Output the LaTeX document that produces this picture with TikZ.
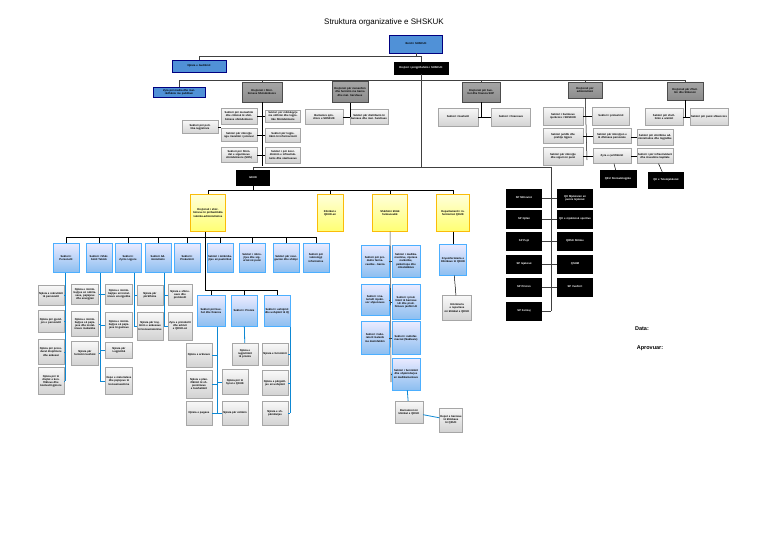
\documentclass[tikz,border=0pt]{standalone}
\usepackage{fontspec}
\setmainfont{Liberation Sans}
\usetikzlibrary{shadows}
\begin{document}
\begin{tikzpicture}[x=1pt,y=-1pt,
 base/.style={draw,rectangle,inner sep=0.5pt,align=center,font=\fontsize{2.7}{3.1}\selectfont\bfseries},
 topbl/.style={base,draw=blue!50!black,fill={rgb,255:red,80;green,145;blue,215}},
 dir/.style={base,draw=gray!60!black,fill=gray!80,top color=gray!70,bottom color=gray!90},
 blk/.style={base,fill=black,text=white,draw=black},
 yel/.style={base,draw=yellow!50!orange,top color=yellow!15,bottom color=yellow!55},
 blu/.style={base,draw=blue!45!cyan!70,top color=blue!8,bottom color={rgb,255:red,140;green,190;blue,240}},
 gry/.style={base,draw=gray!70,top color=gray!5,bottom color=gray!35,drop shadow={shadow xshift=0.6pt,shadow yshift=-0.6pt,opacity=0.4}},
 ln/.style={draw=black,line width=0.5pt},
 gl/.style={draw=gray!50!black,line width=0.9pt},
 bl/.style={draw=cyan!70!blue,line width=0.8pt}]
\newcommand\bx[7]{\node[#6,minimum width=#4pt,minimum height=#5pt,text width=#4pt-1.5pt] (#1) at (#2,#3) {#7};}
\useasboundingbox (0,0) rectangle (768,543);
\fill[white] (0,0) rectangle (768,543);
\node[font=\fontsize{8}{9}\selectfont] (title) at (384,22) {Struktura organizative e SHSKUK};
% top
\bx{bordi}{416}{44}{53}{18}{topbl}{Bordi i SHSKUK}
\bx{aud}{199}{66}{54}{12}{topbl}{Njësia e Auditimit}
\bx{drej}{421}{68}{54}{12}{blk}{Drejtori i përgjithshëm i SHSKUK}
\bx{zyra}{179}{92}{52}{10}{topbl}{Zyra për media dhe marrëdhënie me publikun}
\bx{dshs}{262}{92}{40}{20}{dir}{Drejtorati i Shërbimeve Shëndetësore}
\bx{dmen}{350}{92}{36}{21}{dir}{Drejtorati për menaxhim dhe furnizim me barna dhe mat. harxhues}
\bx{dbux}{481}{92}{38}{20}{dir}{Drejtorati për buxhet dhe financa SKP}
\bx{dadm}{585}{90}{34}{16}{dir}{Drejtorati për administratë}
\bx{dzh}{685}{91}{36}{18}{dir}{Drejtorati për Zhvillim dhe Shkencë}
\coordinate (c1) at (416,56);
\draw[gl] (bordi) -- (c1) -| (aud); \draw[gl] (c1) -| (drej);
\coordinate (c2) at (421,80);
\draw[gl] (drej) -- (c2); \draw[gl] (179,80) -- (685,80);
\foreach \n in {zyra,dshs,dmen,dbux,dadm,dzh}{\draw[gl] (\n.north|-c2) -- (\n);}
% SHS subs
\bx{s1}{200}{127}{36}{13}{gry}{Sektori për politika regjistrare}
\bx{s2}{239}{116}{36}{16}{gry}{Sektori për menaxhim dhe cilësisë të shërbimeve shëndetësore}
\bx{s3}{283}{116}{35}{12}{gry}{Sektori për mbikëqyrje me ndihmë dhe logjistike Shëndetësore}
\bx{s4}{239}{135}{36}{13}{gry}{Sektori për mbrojtje nga rrezatimi i jonizuar}
\bx{s5}{283}{135}{35}{14}{gry}{Sektori për logjistikën të informacionit}
\bx{s6}{239}{155}{36}{15}{gry}{Sektori për Shëndet e sigurimeve shëndetësore (SHS)}
\bx{s7}{283}{155}{35}{16}{gry}{Sektori i për koordinimin e infrastrukturës dhe stazhuesve}
\draw[ln] (dshs) -- (262,166);
\foreach \n in {s2,s4,s6}{\draw[ln] (\n.east) -- (262,0|-\n.east);}
\foreach \n in {s3,s5,s7}{\draw[ln] (\n.west) -- (262,0|-\n.west);}
\draw[ln] (s1.east) -- (s2.west|-s1.east);
% menaxhim
\bx{m1}{324}{117}{38}{15}{gry}{Barnatore qëndrore e SHSKUK}
\bx{m2}{369}{117}{38}{15}{gry}{Sektori për distribuim të barnave dhe mat. harxhues}
\draw[ln] (dmen) -- (350,117); \draw[ln] (m1) -- (m2);
% buxhet
\bx{b1}{458}{117}{40}{18}{gry}{Sektori i buxhetit}
\bx{b2}{511}{117}{39}{18}{gry}{Sektori i financave}
\draw[ln] (dbux) -- (481,117); \draw[ln] (b1) -- (b2);
% admin
\bx{a1}{563}{116}{40}{18}{gry}{Sektori i burimeve njerëzore i SHSKUK}
\bx{a2}{563}{136}{40}{15}{gry}{Sektori juridik dhe çështje ligjore}
\bx{a3}{563}{156}{40}{18}{gry}{Sektori për mbrojtje dhe siguri në punë}
\bx{a4}{611}{116}{37}{18}{gry}{Sektori i prokurimit}
\bx{a5}{612}{136}{38}{15}{gry}{Sektori për mbrojtjen e të dhënave personale}
\bx{a6}{612}{156}{38}{15}{gry}{Zyra e çertifikimit}
\bx{a7}{655}{137}{36}{16}{gry}{Sektori për shërbime administrative dhe logjistike}
\bx{a8}{655}{156}{36}{15}{gry}{Sektori i për infrastrukturë dhe investime kapitale}
\bx{q1}{618}{179}{36}{17}{blk}{QKU Stomatologjike}
\bx{q2}{666}{180}{35}{16}{blk}{QK e Telemjekësisë}
\draw[ln] (dadm) -- (587,160);
\foreach \n in {a1,a2,a3}{\draw[ln] (\n.east) -- (587,0|-\n.east);}
\foreach \n in {a4,a5,a6}{\draw[ln] (\n.west) -- (587,0|-\n.west);}
\draw[ln] (a7.west) -- (a5.east|-a7.west); \draw[ln] (a8.west) -- (a6.east|-a8.west);
\draw[ln] (a6) -- (q1); \draw[ln] (a8) -- (q2);
% zhvillim
\bx{z1}{664}{117}{38}{17}{gry}{Sektori për zhvillimin e arsimit}
\bx{z2}{709}{117}{38}{17}{gry}{Sektori për punë shkencore}
\draw[ln] (dzh) -- (685,117); \draw[ln] (z1) -- (z2);
% GKUK
\bx{gkuk}{253}{178}{33}{15}{blk}{GKUK}
\coordinate (c3) at (421,167);
\draw[gl] (c2) -- (c3); \draw[gl] (gkuk.north) -- (253,167) -- (551,167);
\bx{y1}{208}{213}{35}{37}{yel}{Drejtorati i shërbimeve të përbashkëta teknike-administrative}
\bx{y2}{330}{213}{26}{37}{yel}{Klinikat e QKUK-së}
\bx{y3}{390}{213}{35}{37}{yel}{Shërbimi klinik farmaceutik}
\bx{y4}{453}{213}{33}{37}{yel}{Departamenti i infermierisë QKUK}
\draw[ln] (gkuk) -- (253,190); \draw[ln] (208,190) -- (453,190);
\foreach \n in {y1,y2,y3,y4}{\draw[ln] (\n.north|-0,190) -- (\n);}
% SP
\foreach \n/\y/\t in {p1/198/SP Mitrovicë,p2/219/SP Gjilan,p3/241/SP Pejë,p4/264/SP Gjakovë,p5/287/SP Prizren,p6/311/SP Ferizaj}{\bx{\n}{524}{\y}{35}{18}{blk}{\t}}
\foreach \n/\y/\t in {r1/198/QK Mjekësisë së punës Gjakovë,r2/219/QK e mjekësisë sportive,r3/241/QRSK Shtime,r4/264/QSHM,r5/287/SP Vushtrri}{\bx{\n}{575}{\y}{35}{18}{blk}{\t}}
\draw[gl] (551,167) -- (551,311);
\foreach \i in {1,...,6}{\draw[gl] (p\i) -- (551,0|-p\i);}
\foreach \i in {1,...,5}{\draw[gl] (r\i) -- (551,0|-r\i);}
% blue sectors row
\foreach \n/\x/\t in {e1/66/Sektori i Personelit,e2/99/Sektori i Shërbimit Teknik,e3/128/Sektori i Zyrës Ligjore / Juridike,e4/158/Sektori Administrativ,e5/187/Sektori i Prokurimit,e6/220/Sektori i mirëmbajtjes së pastërtisë,e7/252/Sektori i mbrojtjes dhe sigurisë në punë,e8/286/Sektori për navigacion dhe shtëpi,e9/316/Sektori për teknologji informative}{\bx{\n}{\x}{258}{26}{29}{blu}{\t}}
\draw[ln] (66,237) -- (316,237); \draw[ln] (205,231.5) -- (205,290);
\foreach \i in {1,...,9}{\draw[ln] (e\i.north|-0,237) -- (e\i);}
\bx{f1}{211}{311}{28}{31}{blu}{Sektori për buxhet dhe financa}
\bx{f2}{244}{311}{26}{31}{blu}{Sektori i Pronës}
\bx{f3}{277}{311}{26}{31}{blu}{Sektori i ushqimit dhe ushqimit të IQ}
\draw[ln] (205,290) -- (277,290);
\foreach \n in {f1,f2,f3}{\draw[ln] (\n.north|-0,290) -- (\n);}
% leaves personel
\foreach \n/\y/\h/\t in {g1/295/20/Njësia e rekrutimit të personelit,g2/321/22/Njësia për gjendjen e personelit,g3/352/25/Njësia për procedurat disiplinore dhe ankesat,g4/381/27/Njësia për të drejtat e konflikteve dhe kontestit gjinore}{\bx{\n}{51}{\y}{26}{\h}{gry}{\t}}
\draw[bl] (e1.south-|65,0) -- (65,381);
\foreach \i in {1,...,4}{\draw[bl] (g\i.east) -- (65,0|-g\i.east);}
\foreach \n/\y/\h/\t in {h1/294/20/{Njësia e mirëmbajtjes së ndërtesave, pajisjeve dhe energjisë},h2/324/25/Njësia e mirëmbajtjes së pajisjeve dhe instalimeve mekanike,h3/353/24/Njësia për furnizim kuzhinë}{\bx{\n}{85}{\y}{27}{\h}{gry}{\t}}
\foreach \n/\y/\h/\t in {k1/294/20/Njësia e mirëmbajtjes së instalimeve energjetike,k2/325/25/Njësia e mirëmbajtjes së pajisjeve të gazrave,k3/350/16/Njësia për Logjistikë,k4/381/27/Depo e materialeve dhe pajisjeve të konsumueshme}{\bx{\n}{119}{\y}{27}{\h}{gry}{\t}}
\draw[bl] (e2.south-|100,0) -- (100,381);
\foreach \i in {1,...,3}{\draw[bl] (h\i.east) -- (100,0|-h\i.east);}
\foreach \i in {1,...,4}{\draw[bl] (k\i.west) -- (100,0|-k\i.west);}
\bx{l1}{150}{295}{26}{20}{gry}{Njësia për përkthime}
\bx{l2}{150}{326}{26}{28}{gry}{Njësia për trajtimin e ankesave të konsumatorëve}
\draw[bl] (e3.south-|134,0) -- (134,326);
\foreach \n in {l1,l2}{\draw[bl] (\n.west) -- (134,0|-\n.west);}
\bx{n1}{180}{295}{24}{21}{gry}{Njësia e shkresave dhe protokolit}
\bx{n2}{180}{326}{24}{28}{gry}{Zyra e protokolit dhe arkivit e QKUK-së}
\draw[bl] (e4.south-|164,0) -- (164,326);
\foreach \n in {n1,n2}{\draw[bl] (\n.west) -- (164,0|-\n.west);}
% budget leaves
\bx{u1}{199}{355}{26}{24}{gry}{Njësia e arkivave}
\bx{u2}{199}{384}{26}{28}{gry}{Njësia e planifikimit të shpenzimeve e buxhetimit}
\bx{u3}{199}{413}{26}{24}{gry}{Njësia e pagave}
\bx{u4}{235}{382}{26}{25}{gry}{Njësia për të hyrat e QKUK}
\bx{u5}{235}{413}{26}{24}{gry}{Njësia për zotimin}
\draw[bl] (217,326.5) -- (217,413);
\foreach \n in {u1,u2,u3}{\draw[bl] (\n.east) -- (217,0|-\n.east);}
\foreach \n in {u4,u5}{\draw[bl] (\n.west) -- (217,0|-\n.west);}
\bx{v1}{245}{354}{26}{22}{gry}{Njësia e regjistrimit të pronës}
\draw[bl] (f2) -- (v1);
\bx{w1}{275}{354}{26}{22}{gry}{Njësia e furnizimit}
\bx{w2}{275}{383}{26}{25}{gry}{Njësia e përgatitjes së ushqimit}
\bx{w3}{275}{413}{26}{24}{gry}{Njësia e shpërndarjes}
\draw[bl] (290,326.5) -- (290,413);
\foreach \n in {w1,w2,w3}{\draw[bl] (\n.east) -- (290,0|-\n.east);}
% farmaceutik
\foreach \n/\y/\h/\t in {x1/261/32/Sektori për produkte farmaceutike - barna,x2/300/31/Sektori i materialit mjekësor shpenzues,x3/338/33/Sektori i laboratorit Galenik me dezinfektim}{\bx{\n}{375}{\y}{28}{\h}{blu}{\t}}
\foreach \n/\y/\h/\t in {t1/261/32/{Sektori i medikamentëve, mjeteve narkotike, psikotrope dhe citostatikëve},t2/302/35/Sektori i prodhimit të barnave LE dhe prodhimeve jashtë LE,t3/338/33/Sektori i radiofarmacisë (Nukleare),t4/374/32/Sektori i furnizimit dhe shpërndarjes së medikamenteve}{\bx{\n}{406}{\y}{28}{\h}{blu}{\t}}
\draw[gl,line width=0.6pt] (y3) -- (391,382);
\foreach \i in {1,...,3}{\draw[gl,line width=0.6pt] (x\i.east) -- (391,0|-x\i.east);}
\foreach \i in {1,...,4}{\draw[gl,line width=0.6pt] (t\i.west) -- (391,0|-t\i.west);}
\bx{bk}{409}{412}{28}{22}{gry}{Barnatoret në klinikat e QKUK}
\bx{dp}{451}{420}{23}{24}{gry}{Depot e barnave të klinikave të QKUK}
\draw[bl] (t4) -- (bk); \draw[bl] (bk) -- (dp);
% infermieri
\bx{ki}{453}{260}{27}{31}{blu}{Kryeinfermieria e Klinikave të QKUK}
\bx{ir}{457}{308}{29}{25}{gry}{Infermieria e reparteve\\[1pt] në klinikat e QKUK}
\draw[ln] (y4) -- (ki); \draw[ln] (ki) -- (ir);
\node[font=\fontsize{5.5}{6}\selectfont\bfseries] (data) at (642,329) {Data:};
\node[font=\fontsize{5.5}{6}\selectfont\bfseries] (apr) at (650,348) {Aprovuar:};
\end{tikzpicture}
\end{document}
